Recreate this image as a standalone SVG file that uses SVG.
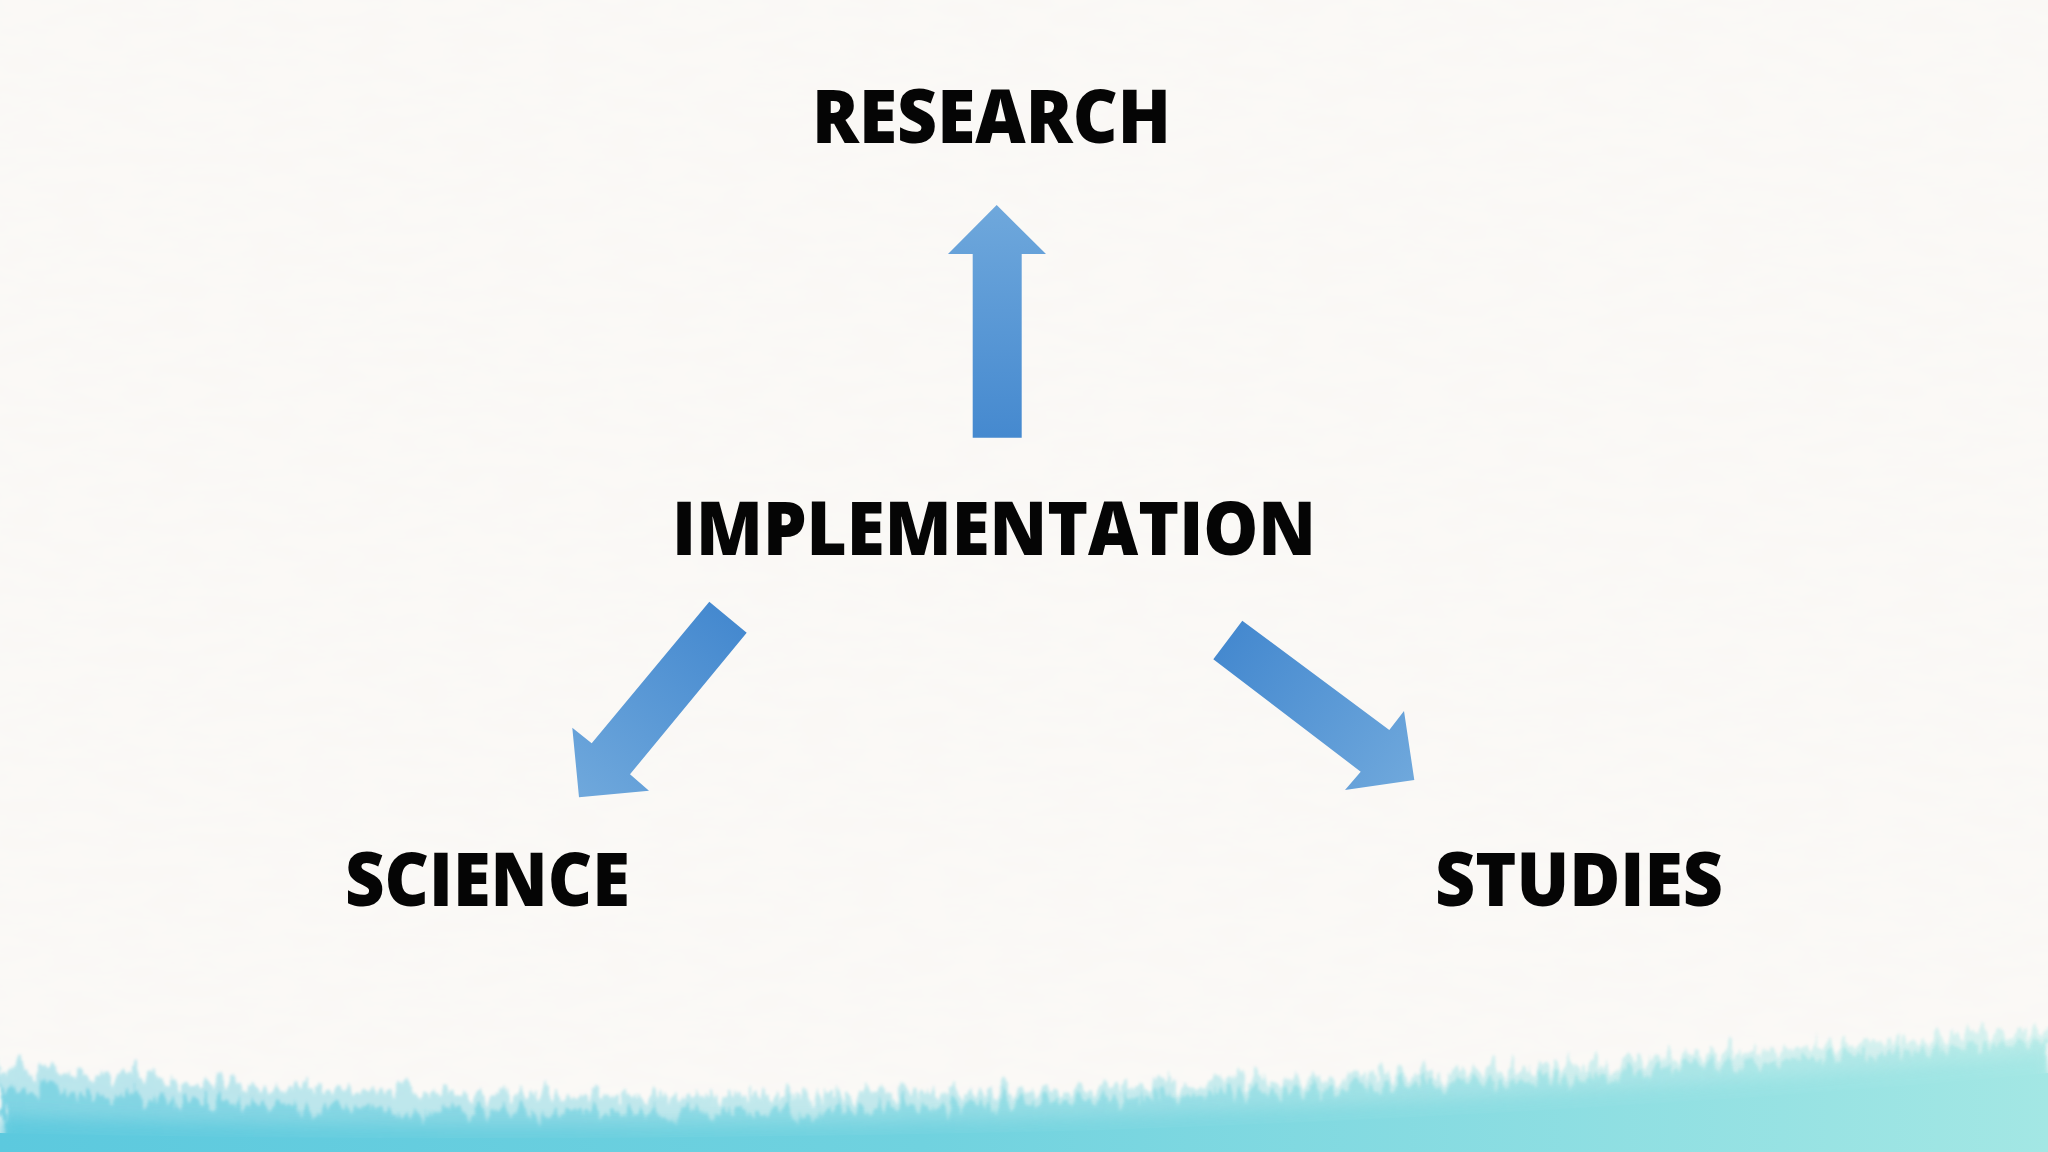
<svg xmlns="http://www.w3.org/2000/svg" width="2048" height="1152" viewBox="0 0 2048 1152">
  <defs>
    <style>
      .label { font-family: "Open Sans", "Noto Sans", "Liberation Sans", sans-serif; font-weight: 800; font-size: 74px; fill: #050505; }
    </style>
    <filter id="paper" x="0" y="0" width="100%" height="100%">
      <feTurbulence type="fractalNoise" baseFrequency="0.02 0.06" numOctaves="3" seed="4" result="n"/>
      <feColorMatrix in="n" type="matrix" values="0 0 0 0 0.93  0 0 0 0 0.92  0 0 0 0 0.9  0 0 0 0.3 0"/>
    </filter>
    <filter id="streak" x="-5%" y="-40%" width="110%" height="180%">
      <feTurbulence type="fractalNoise" baseFrequency="0.12 0.02" numOctaves="4" seed="7" result="t"/>
      <feDisplacementMap in="SourceGraphic" in2="t" scale="45" xChannelSelector="R" yChannelSelector="G" result="d"/>
      <feGaussianBlur in="d" stdDeviation="1.5"/>
    </filter>
    <filter id="soft" x="-5%" y="-40%" width="110%" height="180%">
      <feGaussianBlur stdDeviation="8"/>
    </filter>
    <linearGradient id="sea" x1="0" y1="0" x2="1" y2="0">
      <stop offset="0" stop-color="#5cc9de"/>
      <stop offset="0.45" stop-color="#70d2df"/>
      <stop offset="1" stop-color="#a3e7e4"/>
    </linearGradient>
    <linearGradient id="gUp" gradientUnits="userSpaceOnUse" x1="997" y1="438" x2="997" y2="205">
      <stop offset="0" stop-color="#4589cf"/>
      <stop offset="1" stop-color="#6fa8dc"/>
    </linearGradient>
    <linearGradient id="gLeft" gradientUnits="userSpaceOnUse" x1="728" y1="617" x2="579" y2="797">
      <stop offset="0" stop-color="#4589cf"/>
      <stop offset="1" stop-color="#6fa8dc"/>
    </linearGradient>
    <linearGradient id="gRight" gradientUnits="userSpaceOnUse" x1="1228" y1="640" x2="1414" y2="780">
      <stop offset="0" stop-color="#4589cf"/>
      <stop offset="1" stop-color="#6fa8dc"/>
    </linearGradient>
  </defs>

  <rect width="2048" height="1152" fill="#fbf9f6"/>
  <rect width="2048" height="1152" filter="url(#paper)"/>

  <g id="watercolor">
    <path d="M0,1066 C250,1088 450,1098 800,1096 C1200,1088 1600,1066 2048,1028 L2048,1152 L0,1152 Z" fill="url(#sea)" opacity="0.4" filter="url(#streak)"/>
    <path d="M0,1088 C250,1108 450,1116 800,1110 C1200,1098 1600,1078 2048,1040 L2048,1152 L0,1152 Z" fill="url(#sea)" opacity="0.6" filter="url(#streak)"/>
    <path d="M0,1116 C300,1128 700,1130 1100,1116 C1500,1100 1800,1078 2048,1053 L2048,1152 L0,1152 Z" fill="url(#sea)" opacity="0.9" filter="url(#soft)"/>
    <path d="M0,1133 C300,1140 700,1140 1100,1130 C1500,1116 1800,1096 2048,1073 L2048,1160 L0,1160 Z" fill="url(#sea)"/>
  </g>

  <g id="connectors">
    <polygon points="972.7,437.7 972.7,254 948,254 996.7,205 1046,254 1021.7,254 1021.7,437.7" fill="url(#gUp)"/>
    <polygon points="709.3,601.7 746.7,632.7 630,774.3 649,790.7 579,797.3 572.3,727.7 591.7,743.3" fill="url(#gLeft)"/>
    <polygon points="1242.3,620.7 1389.3,730 1404,711 1414.3,780 1345,790 1360.7,771.7 1213.3,659.3" fill="url(#gRight)"/>
  </g>

  <g id="node-research">
    <text class="label" x="812" y="143" textLength="359" lengthAdjust="spacingAndGlyphs">RESEARCH</text>
  </g>
  <g id="node-implementation">
    <text class="label" x="672" y="555" textLength="644" lengthAdjust="spacingAndGlyphs">IMPLEMENTATION</text>
  </g>
  <g id="node-science">
    <text class="label" x="345" y="906" textLength="285" lengthAdjust="spacingAndGlyphs">SCIENCE</text>
  </g>
  <g id="node-studies">
    <text class="label" x="1435" y="906" textLength="288" lengthAdjust="spacingAndGlyphs">STUDIES</text>
  </g>
</svg>
